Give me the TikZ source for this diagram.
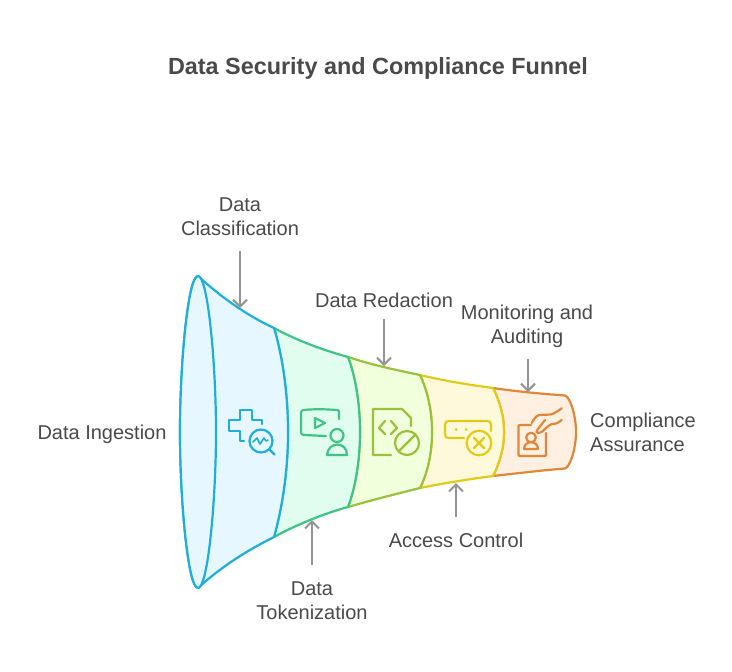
\documentclass[tikz,border=0pt]{standalone}
\usepackage{fontspec}
\setmainfont{Liberation Sans}
\usetikzlibrary{arrows.meta}
\definecolor{txt}{HTML}{4A4A4A}
\definecolor{arr}{HTML}{949494}
\definecolor{sA}{HTML}{1FAEDB}\definecolor{fA}{HTML}{E6F7FF}
\definecolor{sB}{HTML}{3EC484}\definecolor{fB}{HTML}{E0FDEF}
\definecolor{sC}{HTML}{98C23A}\definecolor{fC}{HTML}{F2FFDC}
\definecolor{sD}{HTML}{E2CB14}\definecolor{fD}{HTML}{FFF9DB}
\definecolor{sE}{HTML}{E0873A}\definecolor{fE}{HTML}{FFF0E2}
\tikzset{
  x=1pt,y=-1pt,
  lbl/.style={text=txt,font=\fontsize{20}{24}\selectfont,inner sep=0pt,align=center},
  pointer/.style={draw=arr,line width=2pt,-{Straight Barb[length=7pt,width=14pt,line width=2pt]}},
  band/.style={line width=2.2pt,line join=round},
  ico/.style={line width=2.2pt,line cap=round,line join=round,fill=none},
}
\begin{document}
\begin{tikzpicture}
\useasboundingbox (0,0) rectangle (732,672);
\fill[white] (0,0) rectangle (732,672);
% orange band
\filldraw[band,draw=sE,fill=fE] (493,388) .. controls (520,392) and (545,394) .. (565,395.5)
  .. controls (570,397) and (576,415) .. (576,432) .. controls (576,449) and (570,467) .. (565,468.5)
  .. controls (545,470) and (520,473) .. (493,476) .. controls (500,462) and (504,447) .. (504,432)
  .. controls (504,417) and (500,402) .. (493,388) -- cycle;
% yellow band
\filldraw[band,draw=sD,fill=fD] (420,375) .. controls (445,381) and (470,385) .. (493,388)
  .. controls (500,402) and (504,417) .. (504,432) .. controls (504,447) and (500,462) .. (493,476)
  .. controls (470,479) and (445,483) .. (420,488) .. controls (428,472) and (432,452) .. (432,432)
  .. controls (432,412) and (428,392) .. (420,375) -- cycle;
% lime band
\filldraw[band,draw=sC,fill=fC] (348,357) .. controls (372,365) and (396,370) .. (420,375)
  .. controls (428,392) and (432,412) .. (432,432) .. controls (432,452) and (428,472) .. (420,488)
  .. controls (396,494) and (372,500) .. (348,507) .. controls (356,486) and (360,458) .. (360,432)
  .. controls (360,406) and (356,378) .. (348,357) -- cycle;
% green band
\filldraw[band,draw=sB,fill=fB] (274,328) .. controls (298,341) and (323,350) .. (348,357)
  .. controls (356,378) and (360,406) .. (360,432) .. controls (360,458) and (356,486) .. (348,507)
  .. controls (323,514) and (298,524) .. (274,537) .. controls (283,505) and (288,468) .. (288,432)
  .. controls (288,396) and (283,358) .. (274,328) -- cycle;
% blue band
\filldraw[band,draw=sA,fill=fA] (198,276) .. controls (222,298) and (248,316) .. (274,328)
  .. controls (283,358) and (288,396) .. (288,432) .. controls (288,468) and (283,505) .. (274,537)
  .. controls (248,550) and (222,566) .. (198,588) .. controls (188,588) and (180,500) .. (180,432)
  .. controls (180,364) and (188,276) .. (198,276) -- cycle;
% mouth
\filldraw[band,draw=sA,fill=fA] (198,276) .. controls (188,276) and (180,364) .. (180,432)
  .. controls (180,500) and (188,588) .. (198,588) .. controls (208,588) and (216,500) .. (216,432)
  .. controls (216,364) and (208,276) .. (198,276) -- cycle;
% icon 1
\draw[ico,draw=sA] (262,424) -- (262,420) -- (252,420) -- (252,410) -- (240,410) -- (240,420) -- (229,420) -- (229,431) -- (240,431) -- (240,441) -- (244,441);
\draw[ico,draw=sA] (261,441) circle[radius=11.5];
\draw[ico,draw=sA] (269.5,449.5) -- (274.5,454.5);
\draw[ico,draw=sA,line width=1.6pt] (253,442) -- (257,438) -- (260,444) -- (264,438) -- (266,441) -- (268,440);
% icon 2
\draw[ico,draw=sB] (339,419) -- (339,412) .. controls (339,410) and (338,410) .. (336,410) .. controls (325,409) and (312,409) .. (304,410) .. controls (302,410) and (301,411) .. (301,413) -- (301,432) .. controls (301,434) and (302,435) .. (304,435) -- (326,436);
\draw[ico,draw=sB] (315,418) -- (315,428) -- (325,423) -- cycle;
\draw[ico,draw=sB] (337,435.5) circle[radius=6.5];
\draw[ico,draw=sB] (327,455) .. controls (328,441) and (347,441) .. (347,455) -- cycle;
% icon 3
\draw[ico,draw=sC] (391,455) -- (373,455) -- (373,409) -- (402,409) -- (411,418) -- (411,426);
\draw[ico,draw=sC] (385,421) -- (379,428) -- (385,434);
\draw[ico,draw=sC] (391,421) -- (397,428) -- (391,434);
\draw[ico,draw=sC] (407,443) circle[radius=12];
\draw[ico,draw=sC] (399,451) -- (415,435);
% icon 4
\draw[ico,draw=sD] (464,438) -- (449,438) .. controls (446,438) and (445,437) .. (445,434) -- (445,425) .. controls (445,422) and (446,421) .. (449,421) -- (487,421) .. controls (490,421) and (491,422) .. (491,425) -- (491,431);
\draw[ico,draw=sD,line width=2.6pt] (456,429.3) -- (456.3,429.3);
\draw[ico,draw=sD,line width=2.6pt] (466,429.3) -- (466.3,429.3);
\draw[ico,draw=sD] (479,443) circle[radius=12.3];
\draw[ico,draw=sD] (474,438) -- (484,448);
\draw[ico,draw=sD] (484,438) -- (474,448);
% icon 5
\draw[ico,draw=sE] (531,425) -- (519.5,425) -- (518.5,426) -- (518.5,455) -- (519.5,456) -- (545,456) -- (546,455) -- (546,433);
\draw[ico,draw=sE] (531,437.5) circle[radius=4.8];
\draw[ico,draw=sE] (524,449) .. controls (524,440) and (538,440) .. (538,449) -- cycle;
\draw[ico,draw=sE] (531.7,423) .. controls (534,419) and (536,416) .. (539,415) -- (551,414.5) .. controls (554,413.5) and (558,411) .. (561.7,408.3);
\draw[ico,draw=sE] (545,420) -- (537.7,429.3) .. controls (536,431) and (536,433) .. (538,433) .. controls (540,433) and (541,432) .. (543,431) .. controls (546,428) and (549,425) .. (552,424) .. controls (556,424) and (558,423) .. (561.7,420);
% labels
\node[text=txt,font=\fontsize{23.4}{28}\selectfont\bfseries,inner sep=0pt] (title) at (378,68) {Data Security and Compliance Funnel};
\node[lbl] (ingest) at (102,434) {Data Ingestion};
\node[lbl] (classif) at (240,217) {Data\\Classification};
\node[lbl] (redact) at (384,300) {Data Redaction};
\node[lbl] (monitor) at (527,326) {Monitoring and\\Auditing};
\node[lbl,align=left,anchor=west] (comply) at (590,432) {Compliance\\Assurance};
\node[lbl] (access) at (456,540) {Access Control};
\node[lbl] (token) at (312,601) {Data\\Tokenization};
% connectors
\coordinate (classifEnd) at (240,308);
\coordinate (redactEnd) at (384,366);
\coordinate (monitorEnd) at (528,392);
\coordinate (accessEnd) at (456,483);
\coordinate (tokenEnd) at (312,520);
\coordinate (classifStart) at (240,251);
\coordinate (redactStart) at (384,319);
\coordinate (monitorStart) at (528,359);
\coordinate (accessStart) at (456,517);
\coordinate (tokenStart) at (312,565);
\draw[pointer] (classifStart) -- (classifEnd);
\draw[pointer] (redactStart) -- (redactEnd);
\draw[pointer] (monitorStart) -- (monitorEnd);
\draw[pointer] (accessStart) -- (accessEnd);
\draw[pointer] (tokenStart) -- (tokenEnd);
\end{tikzpicture}
\end{document}
